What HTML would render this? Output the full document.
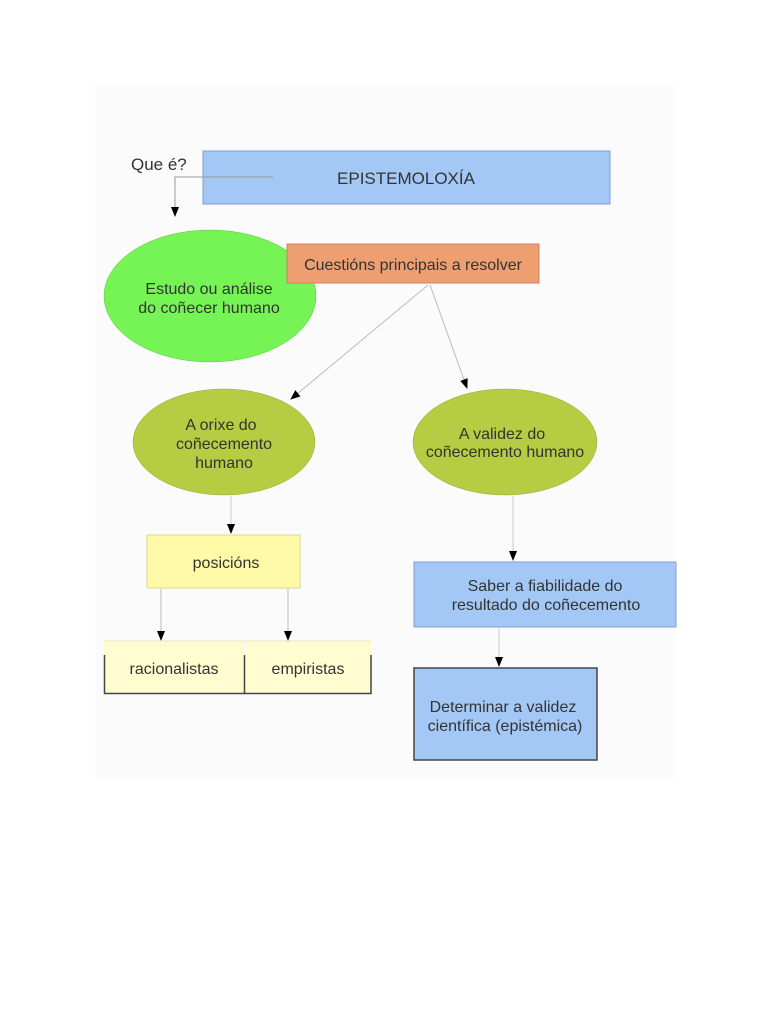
<!DOCTYPE html>
<html><head><meta charset="utf-8"><style>
html,body{margin:0;padding:0;background:#fff;}
svg{display:block;}
text{font-family:"Liberation Sans",sans-serif;fill:#333;}
</style></head><body>
<svg width="768" height="1024" viewBox="0 0 768 1024" xmlns="http://www.w3.org/2000/svg">
<defs>
<marker id="a" markerWidth="10" markerHeight="10" refX="9" refY="5" orient="auto" markerUnits="userSpaceOnUse">
<path d="M0,1 L10,5 L0,9 Z" fill="#000"/>
</marker>
</defs>
<rect x="95" y="85" width="580" height="693" fill="#fbfbfb"/>
<rect x="203" y="151" width="407" height="53" fill="#a3c8f5" stroke="#7f9fd0" stroke-width="1"/>
<text x="406" y="184" font-size="17" text-anchor="middle">EPISTEMOLOXÍA</text>
<text x="131" y="170" font-size="17">Que é?</text>
<path d="M273,177 L175,177 L175,216" fill="none" stroke="#999" stroke-width="1" marker-end="url(#a)"/>
<ellipse cx="210" cy="296" rx="106" ry="66" fill="#77f455" stroke="#5fc040" stroke-width="0.5"/>
<text x="209" y="294" font-size="16" text-anchor="middle">Estudo ou análise</text>
<text x="209" y="313" font-size="16" text-anchor="middle">do coñecer humano</text>
<rect x="287" y="244" width="252" height="39" fill="#ee9f72" stroke="#d08060" stroke-width="1"/>
<text x="413" y="270" font-size="16" text-anchor="middle">Cuestións principais a resolver</text>
<line x1="428" y1="285" x2="291" y2="399" stroke="#bbb" stroke-width="1" marker-end="url(#a)"/>
<line x1="430" y1="285" x2="467" y2="388" stroke="#bbb" stroke-width="1" marker-end="url(#a)"/>
<ellipse cx="224" cy="442" rx="91" ry="53" fill="#b5cc43" stroke="#90a830" stroke-width="0.5"/>
<text x="221" y="430" font-size="16" text-anchor="middle">A orixe do</text>
<text x="224" y="449" font-size="16" text-anchor="middle">coñecemento</text>
<text x="224" y="468" font-size="16" text-anchor="middle">humano</text>
<ellipse cx="505" cy="442" rx="92" ry="53" fill="#b5cc43" stroke="#90a830" stroke-width="0.5"/>
<text x="502" y="439" font-size="16" text-anchor="middle">A validez do</text>
<text x="505" y="457" font-size="16" text-anchor="middle">coñecemento humano</text>
<line x1="231" y1="496" x2="231" y2="533" stroke="#ccc" stroke-width="1" marker-end="url(#a)"/>
<rect x="147" y="535" width="153" height="53" fill="#fffaa8" stroke="#d8d890" stroke-width="1"/>
<text x="226" y="568" font-size="16" text-anchor="middle">posicións</text>
<line x1="161" y1="589" x2="161" y2="640" stroke="#bbb" stroke-width="1" marker-end="url(#a)"/>
<line x1="288" y1="589" x2="288" y2="640" stroke="#bbb" stroke-width="1" marker-end="url(#a)"/>
<rect x="104" y="641" width="140" height="53" fill="#fffdd0"/>
<rect x="245" y="641" width="126" height="53" fill="#fffdd0"/>
<path d="M104.5,655 L104.5,693.5 L244.5,693.5 L244.5,655 M245,693.5 L371,693.5 L371,655" fill="none" stroke="#444" stroke-width="1.5"/>
<line x1="104" y1="641" x2="371" y2="641" stroke="#e8e8c0" stroke-width="1"/>
<text x="174" y="674" font-size="16" text-anchor="middle">racionalistas</text>
<text x="308" y="674" font-size="16" text-anchor="middle">empiristas</text>
<line x1="513" y1="496" x2="513" y2="560" stroke="#ccc" stroke-width="1" marker-end="url(#a)"/>
<rect x="414" y="562" width="262" height="65" fill="#a3c8f5" stroke="#7f9fd0" stroke-width="1"/>
<text x="545" y="591" font-size="16" text-anchor="middle">Saber a fiabilidade do</text>
<text x="546" y="610" font-size="16" text-anchor="middle">resultado do coñecemento</text>
<line x1="499" y1="628" x2="499" y2="666" stroke="#ccc" stroke-width="1" marker-end="url(#a)"/>
<rect x="414" y="668" width="183" height="92" fill="#a3c8f5" stroke="#444" stroke-width="1.5"/>
<text x="503" y="712" font-size="16" text-anchor="middle">Determinar a validez</text>
<text x="505" y="731" font-size="16" text-anchor="middle">científica (epistémica)</text>
</svg>
</body></html>
